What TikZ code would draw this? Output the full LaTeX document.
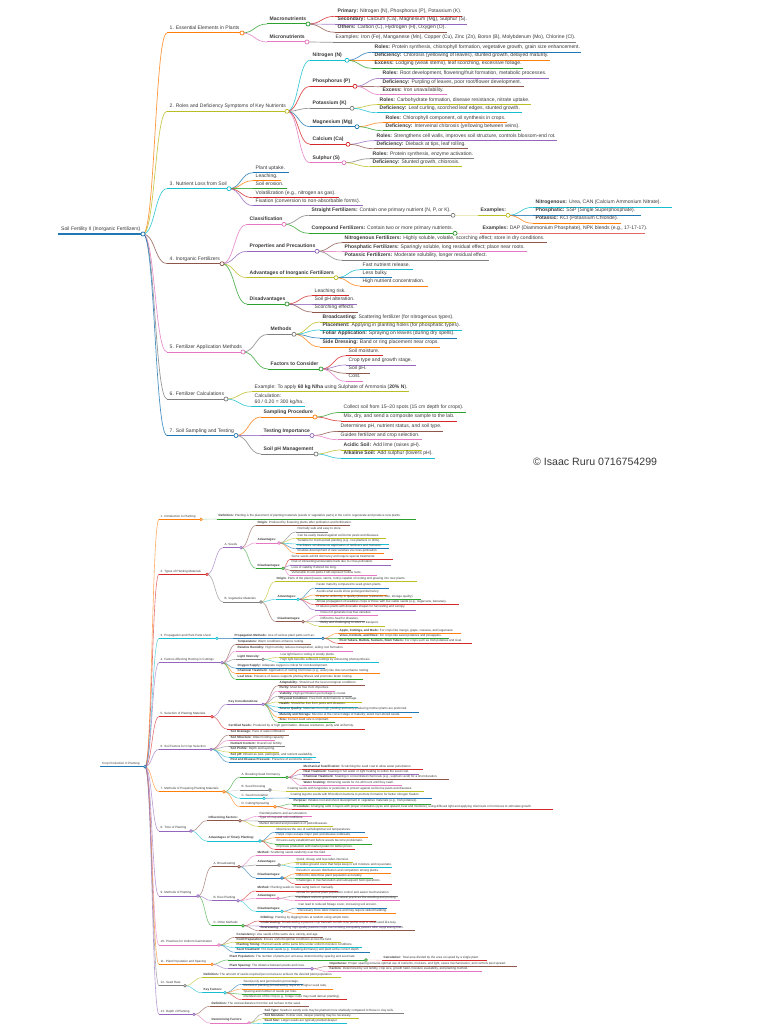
\documentclass[tikz,border=0pt]{standalone}
\usepackage{fontspec}
\setmainfont{Liberation Sans}
\usetikzlibrary{calc}
\pgfdeclarelayer{top}\pgfsetlayers{main,top}
\definecolor{mbl}{HTML}{1F77B4}\definecolor{mor}{HTML}{FF7F0E}\definecolor{mgr}{HTML}{2CA02C}
\definecolor{mrd}{HTML}{D62728}\definecolor{mpu}{HTML}{9467BD}\definecolor{mbr}{HTML}{8C564B}
\definecolor{mpk}{HTML}{E377C2}\definecolor{mgy}{HTML}{7F7F7F}\definecolor{mol}{HTML}{BCBD22}
\definecolor{mcy}{HTML}{17BECF}\definecolor{ink}{HTML}{3A3A3A}
\newcommand\bb[1]{\textbf{#1}}
\newcommand\lnk[4][]{\draw[link,#4,#1] let \p1=(#2),\p2=(#3) in (\p1) .. controls ({0.5*\x1+0.5*\x2},\y1) and ({0.5*\x1+0.5*\x2},\y2) .. (\p2);}
% [link options]{name}{parent}{x1}{x2}{y}{colour}{text}
\newcommand\mm[8][]{\coordinate (#2) at (#4,#6);\coordinate (#2-end) at (#5,#6);
 \lnk[#1]{#3-end}{#2}{#7}\draw[under,#7] (#2)--(#2-end);
 \node[lab] (#2-lab) at ($(#2)+(\tdx,\tdy)$) {#8};}
\newcommand\mmp[8][]{\mm[#1]{#2}{#3}{#4}{#5}{#6}{#7}{#8}
 \begin{pgfonlayer}{top}\node[ring,draw=#7] (#2-ring) at (#2-end) {};\end{pgfonlayer}}
\tikzset{
 link/.style={line width=.7pt,line cap=round,opacity=.8},
 under/.style={line width=1pt},
 lab/.style={anchor=base west,inner sep=0pt,text=ink,font=\lf},
 ring/.style={circle,fill=white,inner sep=0pt,minimum size=\rs,line width=.7pt},
 pale/.style={opacity=.3}
}
\begin{document}
\begin{tikzpicture}[x=1pt,y=-1pt]
\path[use as bounding box,fill=white] (0,0) rectangle (768,1024);
\def\lf{\fontsize{5.05}{6}\selectfont}\def\rs{4pt}\def\tdx{2.5}\def\tdy{-3.5}
% ---------- upper map
\coordinate (rt) at (58,234);\coordinate (rt-end) at (143,234);
\draw[under,mbl] (rt)--(rt-end);
\node[lab] (rt-lab) at ($(rt)+(3,-3.5)$) {Soil Fertility II (Inorganic Fertilizers)};
\begin{pgfonlayer}{top}\node[ring,draw=mbl] (rt-ring) at (rt-end) {};\end{pgfonlayer}
\mmp{a}{rt}{167}{242}{33}{mor}{1. Essential Elements in Plants}
\mmp{b}{rt}{167}{287}{111.3}{mol}{2. Roles and Deficiency Symptoms of Key Nutrients}
\mmp{c}{rt}{167}{229}{188.7}{mcy}{3. Nutrient Loss from Soil}
\mmp{d}{rt}{167}{222}{263.7}{mbr}{4. Inorganic Fertilizers}
\mmp{e}{rt}{167}{243}{352}{mpk}{5. Fertilizer Application Methods}
\mmp{f}{rt}{167}{226}{399}{mgy}{6. Fertilizer Calculations}
\mmp{g}{rt}{167}{236}{435.5}{mbl}{7. Soil Sampling and Testing}
\mmp{aa}{a}{267}{308}{24}{mgr}{\bb{Macronutrients}}
\mmp{ab}{a}{267}{307}{42}{mpk}{\bb{Micronutrients}}
\mm{aaa}{aa}{335}{462}{16.3}{mrd}{\bb{Primary:} Nitrogen (N), Phosphorus (P), Potassium (K).}
\mm{aab}{aa}{335}{467}{24.3}{mpu}{\bb{Secondary:} Calcium (Ca), Magnesium (Mg), Sulphur (S).}
\mm{aac}{aa}{335}{447}{32.3}{mbr}{\bb{Others:} Carbon (C), Hydrogen (H), Oxygen (O).}
\mm{aba}{ab}{333}{576}{42.3}{mgy}{Examples: Iron (Fe), Manganese (Mn), Copper (Cu), Zinc (Zn), Boron (B), Molybdenum (Mo), Chlorine (Cl).}
\mmp{ba}{b}{310}{347}{60.3}{mcy}{\bb{Nitrogen (N)}}
\mmp{bb}{b}{310}{355}{86.3}{mrd}{\bb{Phosphorus (P)}}
\mmp{bc}{b}{310}{352}{108.3}{mgy}{\bb{Potassium (K)}}
\mmp{bd}{b}{310}{357}{126.7}{mbl}{\bb{Magnesium (Mg)}}
\mmp{be}{b}{310}{348}{144.3}{mrd}{\bb{Calcium (Ca)}}
\mmp{bf}{b}{310}{344}{162.7}{mpk}{\bb{Sulphur (S)}}
\mm{baa}{ba}{372}{581}{52.3}{mbl}{\bb{Roles:} Protein synthesis, chlorophyll formation, vegetative growth, grain size enhancement.}
\mm{bab}{ba}{372}{550}{60.3}{mor}{\bb{Deficiency:} Chlorosis (yellowing of leaves), stunted growth, delayed maturity.}
\mm{bac}{ba}{372}{523}{68.3}{mgr}{\bb{Excess:} Lodging (weak stems), leaf scorching, excessive foliage.}
\mm{bba}{bb}{380}{549}{78.3}{mpu}{\bb{Roles:} Root development, flowering/fruit formation, metabolic processes.}
\mm{bbb}{bb}{380}{524}{86.7}{mbr}{\bb{Deficiency:} Purpling of leaves, poor root/flower development.}
\mm{bbc}{bb}{380}{447}{94.7}{mpk}{\bb{Excess:} Iron unavailability.}
\mm{bca}{bc}{377}{531}{104.7}{mol}{\bb{Roles:} Carbohydrate formation, disease resistance, nitrate uptake.}
\mm{bcb}{bc}{377}{522}{112.7}{mcy}{\bb{Deficiency:} Leaf curling, scorched leaf edges, stunted growth.}
\mm{bda}{bd}{383}{507}{122.7}{mor}{\bb{Roles:} Chlorophyll component, oil synthesis in crops.}
\mm{bdb}{bd}{383}{521}{130.7}{mgr}{\bb{Deficiency:} Interveinal chlorosis (yellowing between veins).}
\mm{bea}{be}{374}{557}{140.7}{mpu}{\bb{Roles:} Strengthens cell walls, improves soil structure, controls blossom-end rot.}
\mm{beb}{be}{374}{468}{148.7}{mbr}{\bb{Deficiency:} Dieback at tips, leaf rolling.}
\mm{bfa}{bf}{370}{474}{158.7}{mgy}{\bb{Roles:} Protein synthesis, enzyme activation.}
\mm{bfb}{bf}{370}{462}{166.7}{mol}{\bb{Deficiency:} Stunted growth, chlorosis.}
\mm{ca}{c}{253}{289}{172.7}{mbl}{Plant uptake.}
\mm{cb}{c}{253}{281}{180.7}{mor}{Leaching.}
\mm{cc}{c}{253}{287}{188.7}{mgr}{Soil erosion.}
\mm{cd}{c}{253}{339}{197.7}{mrd}{Volatilization (e.g., nitrogen as gas).}
\mm{ce}{c}{253}{363}{205.7}{mpu}{Fixation (conversion to non-absorbable forms).}
\mmp{da}{d}{247}{284}{224.3}{mpk}{\bb{Classification}}
\mmp{db}{d}{247}{317}{251.3}{mpu}{\bb{Properties and Precautions}}
\mmp{dc}{d}{247}{336}{277.7}{mol}{\bb{Advantages of Inorganic Fertilizers}}
\mmp{dd}{d}{247}{287}{304}{mgr}{\bb{Disadvantages}}
\mmp{daa}{da}{309}{453}{215.3}{mgy}{\bb{Straight Fertilizers:} Contain one primary nutrient (N, P, or K).}
\mmp{dab}{da}{309}{455}{233.3}{mgr}{\bb{Compound Fertilizers:} Contain two or more primary nutrients.}
\mmp[pale]{daax}{daa}{478}{508}{215.3}{mol}{\bb{Examples:}}
\mm{daxa}{daax}{533}{672}{207.3}{mcy}{\bb{Nitrogenous:} Urea, CAN (Calcium Ammonium Nitrate).}
\mm{daxb}{daax}{533}{641}{215.3}{mbl}{\bb{Phosphatic:} SSP (Single Superphosphate).}
\mm{daxc}{daax}{533}{621}{223.3}{mor}{\bb{Potassic:} KCl (Potassium Chloride).}
\mm[pale]{dabx}{dab}{480}{645}{233.3}{mrd!70!white}{\bb{Examples:} DAP (Diammonium Phosphate), NPK blends (e.g., 17-17-17).}
\mm{dba}{db}{342}{547}{242.7}{mbr}{\bb{Nitrogenous Fertilizers:} Highly soluble, volatile, scorching effect; store in dry conditions.}
\mm{dbb}{db}{342}{527}{251.7}{mpk}{\bb{Phosphatic Fertilizers:} Sparingly soluble, long residual effect; place near roots.}
\mm{dbc}{db}{342}{489}{260.3}{mgy}{\bb{Potassic Fertilizers:} Moderate solubility, longer residual effect.}
\mm{dca}{dc}{360}{413}{269.7}{mcy}{Fast nutrient release.}
\mm{dcb}{dc}{360}{392}{277.7}{mbl}{Less bulky.}
\mm{dcc}{dc}{360}{428}{286}{mor}{High nutrient concentration.}
\mm{dda}{dd}{312}{349}{295.7}{mrd}{Leaching risk.}
\mm{ddb}{dd}{312}{357}{304}{mpu}{Soil pH alteration.}
\mm{ddc}{dd}{312}{358}{312}{mbr}{Scorching effects.}
\mmp{ea}{e}{268}{294}{334.3}{mgy}{\bb{Methods}}
\mmp{eb}{e}{268}{321}{369}{mgr}{\bb{Factors to Consider}}
\mm{eaa}{ea}{320}{456}{322}{mol}{\bb{Broadcasting:} Scattering fertilizer (for nitrogenous types).}
\mm{eab}{ea}{320}{462}{330}{mcy}{\bb{Placement:} Applying in planting holes (for phosphatic types).}
\mm{eac}{ea}{320}{457}{338}{mbl}{\bb{Foliar Application:} Spraying on leaves (during dry spells).}
\mm{ead}{ea}{320}{440}{347}{mor}{\bb{Side Dressing:} Band or ring placement near crops.}
\mm{eba}{eb}{346}{383}{355.7}{mrd}{Soil moisture.}
\mm{ebb}{eb}{346}{416}{365}{mpu}{Crop type and growth stage.}
\mm{ebc}{eb}{346}{370}{373.3}{mbr}{Soil pH.}
\mm{ebd}{eb}{346}{363}{381.4}{mpk}{Cost.}
\mm{fa}{f}{252}{409}{391.7}{mol}{Example: To apply \bb{60 kg N/ha} using Sulphate of Ammonia (\bb{20\% N}).}
\mm{fb}{f}{252}{305}{406.5}{mcy}{}
\node[lab,anchor=south west,align=left] (fbt2) at ($(fb)+(2.5,-1.4)$) {\fontsize{5.05}{6.3}\selectfont Calculation:\\60 / 0.20 = 300 kg/ha.};
\mmp{ga}{g}{261}{315}{417}{mor}{\bb{Sampling Procedure}}
\mmp{gb}{g}{261}{312}{435.5}{mpu}{\bb{Testing Importance}}
\mmp{gc}{g}{261}{316}{454}{mgy}{\bb{Soil pH Management}}
\mm{gaa}{ga}{341}{466}{412.4}{mgr}{Collect soil from 15–20 spots (15 cm depth for crops).}
\mm{gab}{ga}{341}{457}{421}{mrd}{Mix, dry, and send a composite sample to the lab.}
\mm{gba}{gb}{338}{443}{431.4}{mbr}{Determines pH, nutrient status, and soil type.}
\mm{gbb}{gb}{338}{422}{439.7}{mpk}{Guides fertilizer and crop selection.}
\mm{gca}{gc}{341}{422}{450}{mol}{\bb{Acidic Soil:} Add lime (raises pH).}
\mm{gcb}{gc}{341}{435}{458.3}{mcy}{\bb{Alkaline Soil:} Add sulphur (lowers pH).}
\node[anchor=base west,inner sep=0pt,text=ink,font=\fontsize{10.6}{12}\selectfont] (copy) at (533,465) {© Isaac Ruru 0716754299};
% ---------- lower map
\def\lf{\fontsize{3.05}{3.6}\selectfont}\def\rs{2.6pt}\def\tdx{1.5}\def\tdy{-2.1}
\tikzset{under/.style={line width=.9pt},link/.style={line width=.6pt,line cap=round,opacity=.65}}
\coordinate (Q) at (100,766.7);\coordinate (Q-end) at (145,766.7);
\draw[under,mbl] (Q)--(Q-end);
\node[lab] (Q-lab) at ($(Q)+(2,-2.1)$) {Crop Production II: Planting};
\begin{pgfonlayer}{top}\node[ring,draw=mbl] (Q-ring) at (Q-end) {};\end{pgfonlayer}
\mmp{A}{Q}{159}{201}{519.3}{mor}{1. Introduction to Planting}
\mm[pale]{Aa}{A}{217}{416}{519}{mgr}{\bb{Definition:} Planting is the placement of planting materials (seeds or vegetative parts) in the soil to regenerate and produce new plants.}
\mmp{B}{Q}{159}{207}{574.3}{mrd}{2. Types of Planting Materials}
\mmp{Ba}{B}{223}{241}{547.7}{mpu}{A. Seeds}
\mmp{Bb}{B}{223}{261}{602}{mgy}{B. Vegetative Materials}
\mm{Baa}{Ba}{256}{350}{525.3}{mbr}{\bb{Origin:} Produced by flowering plants after pollination and fertilization.}
\mmp{Bab}{Ba}{256}{279}{543}{mpk}{\bb{Advantages:}}
\mmp{Bac}{Ba}{256}{283}{568.3}{mgr}{\bb{Disadvantages:}}
\mm{Baba}{Bab}{296}{328}{532}{mgy}{Normally safe and easy to store.}
\mm{Babb}{Bab}{296}{386}{538.3}{mol}{Can be easily treated against soil-borne pests and diseases.}
\mm{Babc}{Bab}{296}{389}{544}{mcy}{Suitable for mechanized planting (e.g., row-planters or drills).}
\mm{Babd}{Bab}{296}{389}{548.7}{mbl}{Facilitates simultaneous application of fertilizers and manures.}
\mm{Babe}{Bab}{296}{384}{553.3}{mor}{Enables development of new varieties via cross-pollination.}
\mm{Baca}{Bac}{290}{393}{559.3}{mrd}{Some seeds exhibit dormancy and require special treatments.}
\mm{Bacb}{Bac}{290}{391}{565}{mpu}{Risk of inbreeding/undesirable traits due to cross-pollination.}
\mm{Bacc}{Bac}{290}{351}{570.3}{mbr}{Loss of viability if stored too long.}
\mm{Bacd}{Bac}{290}{377}{575.7}{mpk}{Vulnerable to soil pests if left exposed; hollow roots.}
\mm{Bba}{Bb}{275}{417}{581.7}{mol}{\bb{Origin:} Parts of the plant (leaves, stems, roots) capable of rooting and growing into new plants.}
\mmp{Bbb}{Bb}{276}{298}{599.3}{mcy}{\bb{Advantages:}}
\mmp{Bbc}{Bb}{276}{303}{621.7}{mbr}{\bb{Disadvantages:}}
\mm{Bbba}{Bbb}{315}{389}{588}{mbl}{Faster maturity compared to seed-grown plants.}
\mm{Bbbb}{Bbb}{315}{387}{595}{mor}{Avoids what seeds show prolonged dormancy.}
\mm{Bbbc}{Bbb}{315}{421}{599.7}{mgr}{Preserve uniformity in quality (disease resistance, size, storage quality).}
\mm{Bbbd}{Bbb}{315}{459}{604.7}{mrd}{Allows propagation of seedless crops or those with low viable seeds (e.g., sugarcane, bananas).}
\mm{Bbbe}{Bbb}{315}{416}{610}{mpu}{Produces plants with desirable shapes for harvesting and canopy.}
\mm{Bbca}{Bbc}{319}{378}{615.3}{mpk}{Does not generate new true varieties.}
\mm{Bbcb}{Bbc}{319}{365}{621.5}{mgy}{Difficult to heal for diseases.}
\mm{Bbcc}{Bbc}{319}{385}{626}{mol}{Bulky and challenging to store or transport.}
\mmp{C}{Q}{159}{217}{638.3}{mcy}{3. Propagation and Plant Parts Used}
\mmp{Ca}{C}{233}{323}{638.3}{mbl}{\bb{Propagation Methods:} Use of various plant parts such as:}
\mm{Caa}{Ca}{338}{461}{633.3}{mor}{\bb{Apple, Cuttings, and Buds:} For crops like mango, grape, cassava, and sugarcane.}
\mm{Cab}{Ca}{338}{449}{638.3}{mgr}{\bb{Vines, Cormels, and Rizes:} For crops like sweet potatoes and pineapples.}
\mm{Cac}{Ca}{338}{472}{643.3}{mrd}{\bb{Root Tubers, Bulbils, Suckers, Stem Tubers:} For crops such as Irish potatoes and sisal.}
\mmp{D}{Q}{159}{222}{662.7}{mpu}{4. Factors Affecting Rooting in Cuttings}
\mm{Da}{D}{236}{311}{644.3}{mbr}{\bb{Temperature:} Warm conditions enhance rooting.}
\mm{Db}{D}{236}{353}{651}{mpk}{\bb{Relative Humidity:} High humidity reduces transpiration, aiding root formation.}
\mmp{Dc}{D}{236}{263}{659.3}{mgy}{\bb{Light Intensity:}}
\mm{Dca}{Dc}{279}{336}{657.3}{mol}{Low light favors rooting in woody plants.}
\mm{Dcb}{Dc}{279}{379}{662.3}{mcy}{High light benefits softwood cuttings by enhancing photosynthesis.}
\mm{Dd}{D}{236}{325}{668.3}{mbl}{\bb{Oxygen Supply:} Adequate oxygen is critical for root development.}
\mm{De}{D}{236}{380}{673.7}{mor}{\bb{Chemical Treatment:} Application of rooting hormones (e.g., auxin) like IAA can enhance rooting.}
\mm{Df}{D}{236}{363}{679.3}{mgr}{\bb{Leaf Area:} Presence of leaves supports photosynthesis and promotes faster rooting.}
\mmp{E}{Q}{159}{212}{716.7}{mrd}{5. Selection of Planting Materials}
\mmp{Ea}{E}{227}{263}{704.3}{mpu}{\bb{Key Considerations:}}
\mm{Eb}{E}{227}{365}{729}{mrd}{\bb{Certified Seeds:} Produced by or high germination, disease resistance, purity and uniformity.}
\mm{Eaa}{Ea}{278}{365}{685.7}{mbr}{\bb{Adaptability:} Should suit the local ecological conditions.}
\mm{Eab}{Ea}{278}{335}{691}{mpk}{\bb{Purity:} Must be free from impurities.}
\mm{Eac}{Ea}{278}{352}{696.3}{mgy}{\bb{Viability:} High germination percentage is crucial.}
\mm{Ead}{Ea}{278}{362}{702}{mol}{\bb{Physical Condition:} Free from deformations or damage.}
\mm{Eae}{Ea}{278}{358}{707}{mcy}{\bb{Health:} Should be free from pests and diseases.}
\mm{Eaf}{Ea}{278}{419}{712}{mbl}{\bb{Source Quality:} Materials from high-yielding and early-producing mother plants are preferred.}
\mm{Eag}{Ea}{278}{412}{717.3}{mor}{\bb{Maturity and Storage:} Must be at the correct stage of maturity; avoid over-stored seeds.}
\mm{Eah}{Ea}{278}{335}{722.3}{mgr}{\bb{Size:} Correct seed size is important.}
\mmp{F}{Q}{159}{211}{749.3}{mpu}{6. Soil Factors for Crop Selection}
\mm{Fa}{F}{229}{289}{735}{mbr}{\bb{Soil Drainage:} Pass of water infiltration.}
\mm{Fb}{F}{229}{275}{740.3}{mpk}{\bb{Soil Structure:} Water holding capacity.}
\mm{Fc}{F}{229}{285}{746.5}{mgy}{\bb{Nutrient Content:} Overall soil fertility.}
\mm{Fd}{F}{229}{279}{752}{mol}{\bb{Soil Profile:} Depth and layering.}
\mm{Fe}{F}{229}{316}{757.3}{mcy}{\bb{Soil pH:} Influences pest, pathogens, and nutrient availability.}
\mm{Ff}{F}{229}{320}{762.3}{mbl}{\bb{Pest and Disease Pressure:} Presence of soil-borne issues.}
\mmp{G}{Q}{159}{224}{791.7}{mor}{7. Methods of Preparing Planting Materials}
\mmp{Ga}{G}{240}{287}{777.3}{mgr}{A. Breaking Seed Dormancy}
\mmp[pale]{Gb}{G}{240}{270}{790}{mgy}{B. Seed Dressing}
\mmp{Gc}{G}{240}{264}{798.3}{mcy}{C. Seed Inoculation}
\mmp{Gd}{G}{240}{275}{806.7}{mor}{D. Cutting/Sprouting}
\mm{Gaa}{Ga}{302}{423}{769.3}{mrd}{\bb{Mechanical Scarification:} Scratching the seed coat to allow water penetration.}
\mm{Gab}{Ga}{302}{419}{774.3}{mpu}{\bb{Heat Treatment:} Soaking in hot water or light heating to soften the seed coat.}
\mm{Gac}{Ga}{302}{449}{779.3}{mbr}{\bb{Chemical Treatment:} Soaking in concentrated chemicals (e.g., sulphuric acid) for a short duration.}
\mm{Gad}{Ga}{302}{402}{785.7}{mpk}{\bb{Water Soaking:} Immersing seeds for 24–48 hours until they swell.}
\mm[pale]{Gba}{Gb}{286}{424}{791.7}{mol}{Coating seeds with fungicides or pesticides to protect against soil-borne pests and diseases.}
\mm{Gca}{Gc}{289}{432}{798}{mbl}{Coating legume seeds with Rhizobium bacteria to promote formation for better nitrogen fixation.}
\mm{Gda}{Gd}{292}{431}{804}{mgr}{\bb{Purpose:} Initiates root and shoot development in vegetative materials (e.g., Irish potatoes).}
\mm{Gdb}{Gd}{292}{553}{809.3}{mrd}{\bb{Procedure:} Arranging setts in layers with proper orientation (eyes end upward, heat and moisture), using diffused light and applying chemicals or hormones to stimulate growth.}
\mmp{H}{Q}{159}{191}{831}{mpu}{8. Time of Planting}
\mmp{Ha}{H}{207}{240}{820.7}{mbr}{\bb{Influencing Factors:}}
\mmp{Hb}{H}{207}{260}{841}{mcy}{\bb{Advantages of Timely Planting:}}
\mm{Haa}{Ha}{258}{312}{816.3}{mpk}{Rainfall patterns and accumulation.}
\mm{Hab}{Ha}{258}{308}{821}{mgy}{Type of crop and soil conditions.}
\mm{Hac}{Ha}{258}{333}{826.3}{mol}{Market demand and prevalence of pests/diseases.}
\mm{Hba}{Hb}{275}{365}{832.3}{mbl}{Maximizes the use of rainfall/optimal soil temperatures.}
\mm{Hbb}{Hb}{275}{368}{837.7}{mor}{Helps crops escape major pest and disease outbreaks.}
\mm{Hbc}{Hb}{275}{372}{844}{mgr}{Ensures early establishment before weeds become problematic.}
\mm{Hbd}{Hb}{275}{355}{849.3}{mrd}{Improves production with market peaks for better prices.}
\mmp{I}{Q}{159}{198}{896}{mpu}{9. Methods of Planting}
\mmp{Ia}{I}{212}{239}{866.7}{mbr}{A. Broadcasting}
\mmp{Ib}{I}{212}{238}{900.7}{mpu}{B. Row Planting}
\mmp{Ic}{I}{212}{243}{925.7}{mgr}{C. Other Methods}
\mm{Iaa}{Ia}{256}{331}{855.7}{mpk}{\bb{Method:} Scattering seeds randomly over the field.}
\mmp{Iab}{Ia}{256}{279}{865}{mgy}{\bb{Advantages:}}
\mmp{Iac}{Ia}{256}{282}{878}{mbl}{\bb{Disadvantages:}}
\mm{Iaba}{Iab}{295}{353}{862.7}{mol}{Quick, cheap, and less labor-intensive.}
\mm{Iabb}{Iab}{295}{392}{867.3}{mcy}{Provides ground cover that helps keep in soil moisture and rejuvenate.}
\mm{Iaca}{Iac}{295}{391}{873.7}{mor}{Results in uneven distribution and competition among plants.}
\mm{Iacb}{Iac}{295}{373}{878.3}{mgr}{Difficult to determine plant population accurately.}
\mm{Iacc}{Iac}{295}{392}{884}{mrd}{Challenges in mechanization and subsequent field operations.}
\mm{Iba}{Ib}{256}{338}{891}{mrd}{\bb{Method:} Planting seeds in rows using tools or manually.}
\mmp{Ibb}{Ib}{256}{278}{898.3}{mpk}{\bb{Advantages:}}
\mmp{Ibc}{Ib}{256}{282}{911.3}{mcy}{\bb{Disadvantages:}}
\mm{Ibba}{Ibb}{295}{398}{896}{mgy}{Allows for precise plant population control and easier mechanization.}
\mm{Ibbb}{Ibb}{295}{400}{900.7}{mpk}{Facilitates uniform growth and cultural practices like weeding and pruning.}
\mm{Ibca}{Ibc}{297}{387}{908}{mbl}{Can lead to reduced foliage cover, increasing soil erosion.}
\mm{Ibcb}{Ibc}{297}{396}{913.7}{mor}{Necessary more labor-intensive and may require skilled handling.}
\mm{Ica}{Ic}{259}{376}{921}{mrd}{\bb{Dibbling:} Planting by digging holes at random using simple tools.}
\mm{Icb}{Ic}{259}{401}{926}{mpu}{\bb{Undersowing:} Broadcasting a pasture crop beneath a main crop (some crop or small seed like tea).}
\mm{Icc}{Ic}{259}{415}{930.7}{mbr}{\bb{Oversowing:} Planting high-quality pasture crops over existing low-quality pasture after suppressing them.}
\mmp{J}{Q}{159}{219}{945}{mpk}{10. Practices for Uniform Germination}
\mm{Ja}{J}{235}{323}{937.3}{mbr}{\bb{Consistency:} Use seeds of the same size, variety, and age.}
\mm{Jb}{J}{235}{341}{942.3}{mol}{\bb{Field Preparation:} Ensure uniform/optimal conditions across the field.}
\mm{Jc}{J}{235}{362}{947.7}{mcy}{\bb{Planting Timing:} Plant all seeds at the same time under uniform moisture conditions.}
\mm{Jd}{J}{235}{370}{952.3}{mbl}{\bb{Seed Treatment:} Pre-treat seeds (e.g., breaking dormancy) and plant at the correct depth.}
\mmp{K}{Q}{159}{212}{964.3}{mor}{11. Plant Population and Spacing}
\mmp{Ka}{K}{228}{366}{960}{mgr}{\bb{Plant Population:} The number of plants per unit area, determined by spacing and seed rate.}
\mmp{Kb}{K}{228}{312}{968.7}{mpu}{\bb{Plant Spacing:} The distance between plants and rows.}
\mm[pale]{Kaa}{Ka}{382}{487}{960.3}{mrd}{\bb{Calculation:} Total area divided by the area occupied by a single plant.}
\mm{Kba}{Kb}{328}{517}{966.3}{mbr}{\bb{Importance:} Proper spacing ensures optimal use of nutrients, moisture, and light, eases mechanization, and controls pest spread.}
\mm{Kbb}{Kb}{328}{482}{971.7}{mpk}{\bb{Factors:} Determined by soil fertility, crop size, growth habit, moisture availability, and planting method.}
\mmp{L}{Q}{159}{185}{985.7}{mgy}{12. Seed Rate}
\mm{La}{L}{202}{341}{977.7}{mol}{\bb{Definition:} The amount of seeds required per unit area to achieve the desired plant population.}
\mmp{Lb}{L}{202}{225}{992.7}{mcy}{\bb{Key Factors:}}
\mm{Lba}{Lb}{242}{303}{984.3}{mbl}{Seed purity and germination percentage.}
\mm{Lbb}{Lb}{242}{333}{989}{mor}{Method of planting (broadcasting requires a higher seed rate).}
\mm{Lbc}{Lb}{242}{301}{994.3}{mgr}{Spacing and number of seeds per hole.}
\mm{Lbd}{Lb}{242}{347}{999.7}{mrd}{Intended use of the crop (e.g., forage crops may need denser planting).}
\mmp{M}{Q}{159}{194}{1014.3}{mpu}{13. Depth of Planting}
\mm{Ma}{M}{210}{309}{1006.3}{mbr}{\bb{Definition:} The vertical distance from the soil surface to the seed.}
\mmp{Mb}{M}{210}{249}{1023}{mpk}{\bb{Determining Factors:}}
\mm{Mba}{Mb}{263}{404}{1013.7}{mgy}{\bb{Soil Type:} Seeds in sandy soils may be planted more shallowly compared to those in clay soils.}
\mm{Mbb}{Mb}{263}{359}{1018.7}{mol}{\bb{Soil Moisture:} In drier soils, deeper planting may be necessary.}
\mm{Mbc}{Mb}{263}{347}{1023.7}{mcy}{\bb{Seed Size:} Larger seeds are typically planted deeper.}
\end{tikzpicture}
\end{document}
